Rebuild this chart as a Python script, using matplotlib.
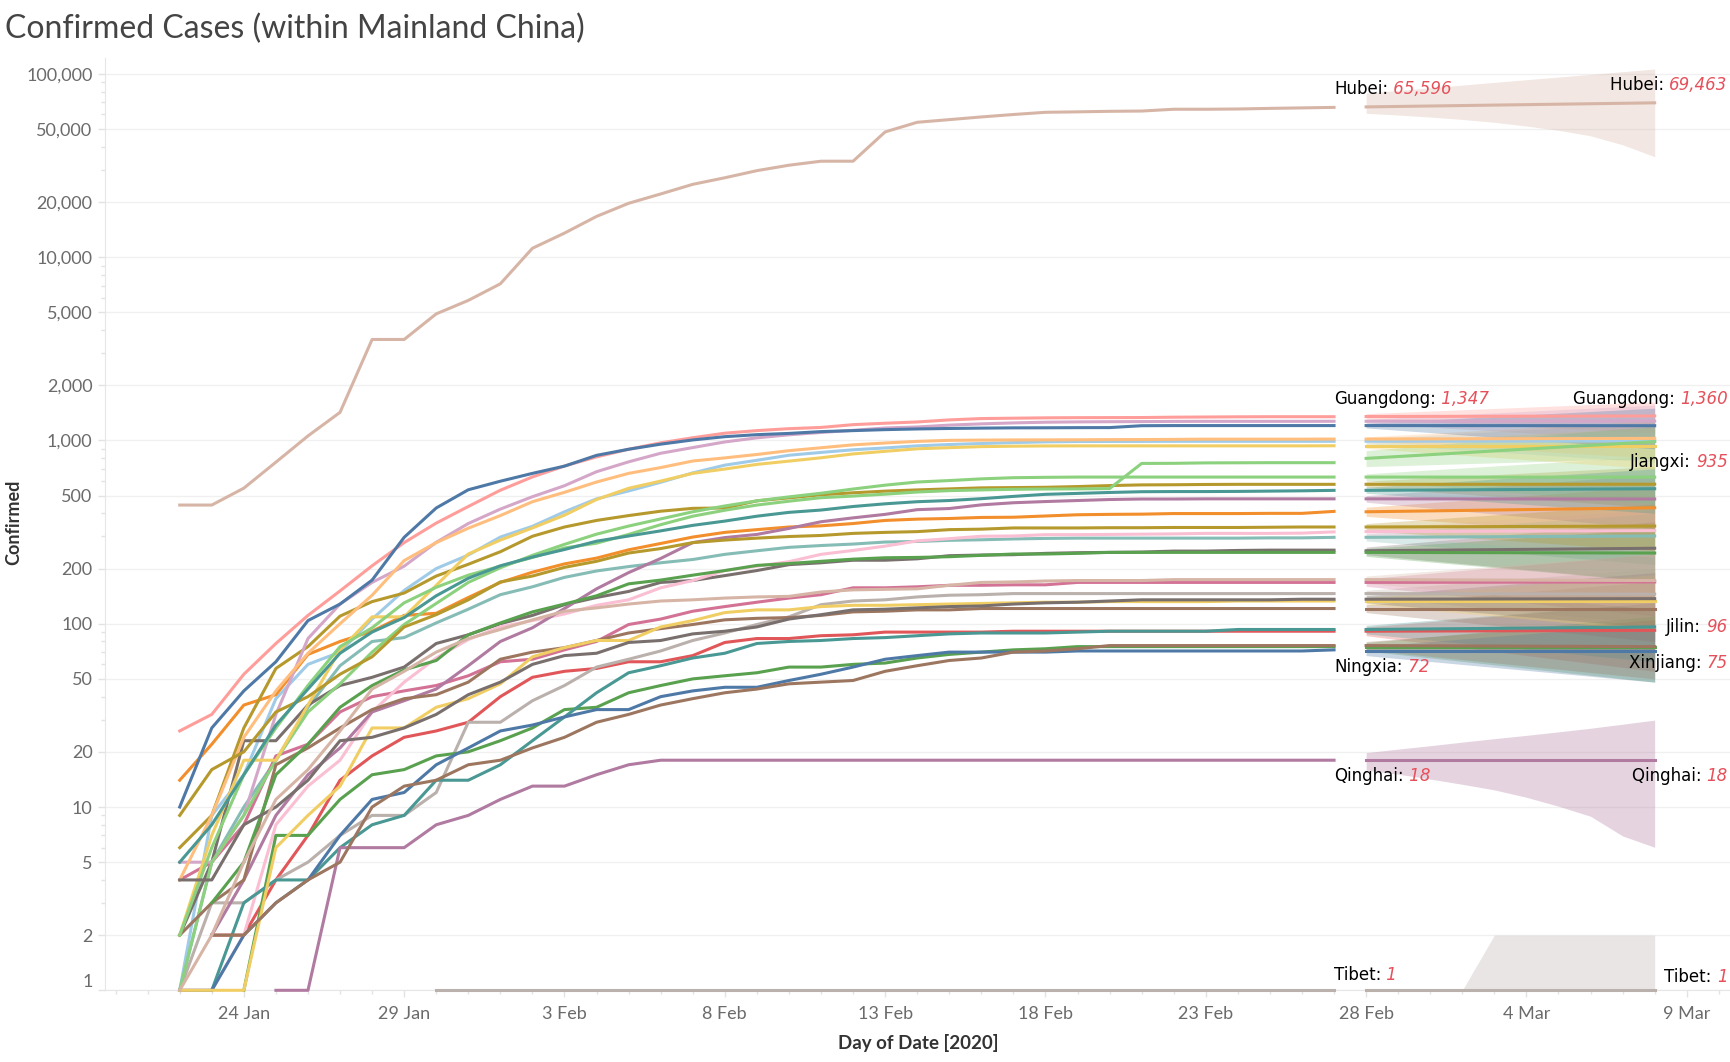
import numpy as np
import pandas as pd
import matplotlib
matplotlib.use("Agg")
import matplotlib.pyplot as plt
import matplotlib.dates as mdates
from matplotlib.ticker import LogLocator, NullFormatter

# daily confirmed cases, 22 Jan .. 27 Feb 2020 (0 = no case yet, not drawn on log axis)
anhui = [1, 9, 15, 39, 60, 70, 106, 152, 200, 237, 297, 340, 408, 480, 530, 591, 665, 733, 779, 830,
         860, 889, 910, 934, 950, 962, 973, 982, 986, 987, 988, 989, 989, 989, 989, 989, 989]
beijing = [14, 22, 36, 41, 68, 80, 91, 111, 114, 139, 168, 191, 212, 228, 253, 274, 297, 315, 326, 337,
           342, 352, 366, 372, 375, 380, 381, 387, 393, 395, 396, 399, 399, 399, 400, 400, 410]
chongqing = [6, 9, 27, 57, 75, 110, 132, 147, 182, 211, 247, 300, 337, 366, 389, 411, 426, 428, 468, 486,
             505, 518, 529, 537, 544, 551, 553, 555, 560, 567, 572, 573, 575, 576, 576, 576, 576]
fujian = [1, 5, 10, 18, 35, 59, 80, 84, 101, 120, 144, 159, 179, 194, 205, 215, 224, 239, 250, 261,
          267, 272, 279, 281, 285, 287, 290, 292, 293, 293, 293, 293, 293, 293, 294, 294, 296]
gansu = [0, 2, 2, 4, 7, 14, 19, 24, 26, 29, 40, 51, 55, 57, 62, 62, 67, 79, 83, 83,
         86, 87, 90, 90, 90, 90, 91, 91, 91, 91, 91, 91, 91, 91, 91, 91, 91]
guangdong = [26, 32, 53, 78, 111, 151, 207, 277, 354, 436, 535, 632, 725, 813, 895, 970, 1034, 1095, 1131, 1159,
             1177, 1219, 1241, 1261, 1294, 1316, 1322, 1328, 1331, 1332, 1333, 1339, 1342, 1345, 1347, 1347, 1347]
guangxi = [2, 5, 23, 23, 36, 46, 51, 58, 78, 87, 100, 111, 127, 139, 150, 168, 172, 183, 195, 210,
           215, 222, 222, 226, 235, 237, 238, 242, 244, 245, 246, 249, 249, 251, 252, 252, 252]
guizhou = [1, 3, 3, 4, 5, 7, 9, 9, 12, 29, 29, 38, 46, 58, 64, 71, 81, 89, 99, 109,
           127, 133, 135, 140, 143, 144, 146, 146, 146, 146, 146, 146, 146, 146, 146, 146, 146]
hainan = [4, 5, 8, 19, 22, 33, 40, 43, 46, 52, 62, 64, 72, 80, 99, 106, 117, 124, 131, 138,
          144, 157, 157, 159, 162, 162, 163, 163, 168, 168, 168, 168, 168, 168, 168, 168, 168]
hebei = [1, 1, 2, 8, 13, 18, 33, 48, 65, 82, 96, 104, 113, 126, 135, 157, 172, 195, 206, 218,
         239, 251, 265, 283, 291, 300, 301, 306, 306, 307, 308, 309, 311, 311, 311, 312, 317]
heilongjiang = [0, 2, 4, 9, 15, 21, 33, 38, 44, 59, 80, 95, 121, 155, 190, 227, 277, 295, 307, 331,
                360, 378, 395, 419, 425, 445, 457, 464, 470, 476, 479, 479, 480, 480, 480, 480, 480]
henan = [5, 5, 9, 32, 83, 128, 168, 206, 278, 352, 422, 493, 566, 675, 764, 851, 914, 981, 1033, 1073,
         1105, 1135, 1169, 1184, 1212, 1231, 1246, 1257, 1262, 1265, 1267, 1270, 1271, 1271, 1271, 1271, 1272]
hubei = [444, 444, 549, 761, 1058, 1423, 3554, 3554, 4903, 5806, 7153, 11177, 13522, 16678, 19665, 22112,
         24953, 27100, 29631, 31728, 33366, 33366, 48206, 54406, 56249, 58182, 59989, 61682, 62031, 62442,
         62662, 64084, 64084, 64287, 64786, 65187, 65596]
hunan = [4, 9, 24, 43, 69, 100, 143, 221, 277, 332, 389, 463, 521, 593, 661, 711, 772, 803, 838, 879,
         912, 946, 968, 988, 1001, 1004, 1006, 1007, 1008, 1010, 1011, 1013, 1016, 1016, 1016, 1016, 1017]
inner_mongolia = [0, 0, 1, 7, 7, 11, 15, 16, 19, 20, 23, 27, 34, 35, 42, 46, 50, 52, 54, 58,
                  58, 60, 61, 65, 68, 70, 72, 73, 75, 75, 75, 75, 75, 75, 75, 75, 75]
jiangsu = [1, 5, 9, 18, 33, 47, 70, 99, 129, 168, 202, 236, 271, 308, 341, 373, 408, 439, 468, 492,
           515, 543, 570, 593, 604, 617, 626, 629, 631, 631, 631, 631, 631, 631, 631, 631, 631]
jiangxi = [2, 7, 18, 18, 36, 72, 109, 109, 162, 240, 286, 333, 391, 476, 548, 600, 661, 698, 740, 771,
           804, 844, 872, 900, 913, 925, 930, 933, 934, 934, 934, 934, 934, 934, 934, 934, 935]
jilin = [0, 1, 3, 4, 4, 6, 8, 9, 14, 14, 17, 23, 31, 42, 54, 59, 65, 69, 78, 80,
         81, 83, 84, 86, 88, 89, 89, 89, 90, 91, 91, 91, 91, 93, 93, 93, 93]
liaoning = [2, 3, 4, 17, 21, 27, 34, 39, 41, 48, 64, 70, 74, 81, 89, 94, 99, 105, 107, 108,
            111, 116, 117, 119, 119, 121, 121, 121, 121, 121, 121, 121, 121, 121, 121, 121, 121]
ningxia = [1, 1, 2, 3, 4, 7, 11, 12, 17, 21, 26, 28, 31, 34, 34, 40, 43, 45, 45, 49,
           53, 58, 64, 67, 70, 70, 70, 70, 71, 71, 71, 71, 71, 71, 71, 71, 72]
qinghai = [0, 0, 0, 1, 1, 6, 6, 6, 8, 9, 11, 13, 13, 15, 17, 18, 18, 18, 18, 18,
           18, 18, 18, 18, 18, 18, 18, 18, 18, 18, 18, 18, 18, 18, 18, 18, 18]
shaanxi = [0, 3, 5, 15, 22, 35, 46, 56, 63, 87, 101, 116, 128, 142, 165, 173, 184, 195, 208, 213,
           219, 225, 229, 230, 232, 236, 240, 240, 242, 245, 245, 245, 245, 245, 245, 245, 245]
shandong = [2, 6, 15, 27, 46, 75, 95, 130, 158, 184, 206, 230, 259, 275, 307, 347, 386, 416, 444, 466,
            487, 497, 509, 523, 532, 537, 541, 543, 544, 546, 749, 750, 754, 755, 756, 756, 756]
shanghai = [9, 16, 20, 33, 40, 53, 66, 96, 112, 135, 169, 182, 203, 219, 243, 257, 277, 286, 293, 299,
            303, 311, 315, 318, 326, 328, 333, 333, 333, 334, 334, 335, 335, 335, 336, 337, 337]
shanxi = [1, 1, 1, 6, 9, 13, 27, 27, 35, 39, 47, 66, 74, 81, 81, 96, 104, 115, 119, 119,
          124, 126, 126, 127, 128, 129, 130, 131, 131, 132, 132, 132, 132, 133, 133, 133, 133]
sichuan = [5, 8, 15, 28, 44, 69, 90, 108, 142, 177, 207, 231, 254, 282, 301, 321, 344, 363, 386, 405,
           417, 436, 451, 463, 470, 481, 495, 508, 514, 520, 525, 526, 526, 527, 529, 531, 534]
tianjin = [4, 4, 8, 10, 14, 23, 24, 27, 32, 41, 48, 60, 67, 69, 79, 81, 88, 91, 96, 106,
           112, 119, 120, 122, 124, 125, 128, 130, 131, 133, 135, 135, 135, 135, 135, 136, 136]
tibet = [0, 0, 0, 0, 0, 0, 0, 0, 1, 1, 1, 1, 1, 1, 1, 1, 1, 1, 1, 1,
         1, 1, 1, 1, 1, 1, 1, 1, 1, 1, 1, 1, 1, 1, 1, 1, 1]
xinjiang = [0, 2, 2, 3, 4, 5, 10, 13, 14, 17, 18, 21, 24, 29, 32, 36, 39, 42, 44, 47,
            48, 49, 55, 59, 63, 65, 70, 71, 73, 76, 76, 76, 76, 76, 76, 76, 76]
yunnan = [1, 2, 5, 11, 16, 26, 44, 55, 70, 83, 93, 105, 117, 122, 128, 133, 135, 138, 140, 141,
          149, 153, 154, 155, 162, 168, 169, 171, 172, 172, 172, 174, 174, 174, 174, 174, 174]
zhejiang = [10, 27, 43, 62, 104, 128, 173, 296, 428, 538, 599, 661, 724, 829, 895, 954, 1006, 1048, 1075, 1092,
            1117, 1131, 1145, 1155, 1162, 1167, 1171, 1172, 1174, 1175, 1203, 1205, 1205, 1205, 1205, 1205, 1205]

provinces = ["Anhui", "Beijing", "Chongqing", "Fujian", "Gansu", "Guangdong", "Guangxi", "Guizhou",
             "Hainan", "Hebei", "Heilongjiang", "Henan", "Hubei", "Hunan", "Inner Mongolia", "Jiangsu",
             "Jiangxi", "Jilin", "Liaoning", "Ningxia", "Qinghai", "Shaanxi", "Shandong", "Shanghai",
             "Shanxi", "Sichuan", "Tianjin", "Tibet", "Xinjiang", "Yunnan", "Zhejiang"]
series = [anhui, beijing, chongqing, fujian, gansu, guangdong, guangxi, guizhou,
          hainan, hebei, heilongjiang, henan, hubei, hunan, inner_mongolia, jiangsu,
          jiangxi, jilin, liaoning, ningxia, qinghai, shaanxi, shandong, shanghai,
          shanxi, sichuan, tianjin, tibet, xinjiang, yunnan, zhejiang]
colors = ["#A0CBE8", "#F28E2B", "#B6992D", "#86BCB6", "#E15759", "#FF9D9A", "#79706E", "#BAB0AC",
          "#D37295", "#FABFD2", "#B07AA1", "#D4A6C8", "#D7B5A6", "#FFBE7D", "#59A14F", "#8CD17D",
          "#F1CE63", "#499894", "#9D7660", "#4E79A7", "#B07AA1", "#59A14F", "#8CD17D", "#B6992D",
          "#F1CE63", "#499894", "#79706E", "#BAB0AC", "#9D7660", "#D7B5A6", "#4E79A7"]

# forecast 28 Feb -> 8 Mar: line start/end and band edges at start/end
fc_start = [990, 408, 576, 296, 91, 1350, 250, 146, 168, 318, 480, 1272, 66000, 1017, 75, 631,
            935, 93, 121, 71, 18, 245, 798, 337, 133, 534, 136, 1, 76, 174, 1205]
fc_end = [993, 429, 577, 301, 92, 1360, 258, 145, 169, 322, 479, 1276, 69463, 1026, 75, 630,
          935, 96, 121, 71, 18, 243, 985, 341, 133, 545, 137, 1, 75, 172, 1203]
band_lo_start = [960, 385, 555, 283, 86, 1310, 238, 140, 160, 305, 460, 1240, 60900, 990, 71, 605,
                 905, 88, 115, 67, 16, 233, 720, 322, 127, 515, 130, 1, 72, 166, 1170]
band_hi_start = [1020, 432, 600, 309, 96, 1400, 262, 152, 176, 330, 500, 1305, 78500, 1045, 79, 657,
                 965, 98, 127, 75, 20, 257, 880, 352, 139, 555, 142, 1, 80, 182, 1240]
band_lo_end = [760, 300, 430, 210, 55, 1100, 170, 100, 110, 230, 330, 1000, 35300, 800, 48, 450,
               700, 62, 80, 48, 6, 170, 800, 250, 92, 400, 95, 1, 50, 120, 900]
band_hi_end = [1250, 560, 720, 400, 130, 1620, 360, 200, 240, 420, 650, 1560, 106200, 1280, 110, 820,
               1180, 130, 170, 100, 30, 330, 1200, 450, 185, 700, 190, 2, 105, 240, 1500]

# bands with a visibly curved edge, one value per forecast day
hubei_lo = [60900, 59600, 58100, 56400, 54400, 51900, 49200, 45900, 41000, 35300]
hubei_hi = [78500, 81200, 83900, 86800, 89800, 92900, 96000, 99300, 102700, 106200]
qinghai_lo = [15.9, 15.1, 14.2, 13.3, 12.4, 11.3, 10.1, 8.9, 6.95, 6.03]
qinghai_hi = [19.8, 20.7, 21.6, 22.6, 23.6, 24.6, 25.7, 26.9, 28.3, 29.8]
tibet_lo = [1, 1, 1, 1, 1, 1, 1, 1, 1, 1]
tibet_hi = [1, 1, 1, 1, 2, 2, 2, 2, 2, 2]
daily_bands = {"Hubei": (hubei_lo, hubei_hi), "Qinghai": (qinghai_lo, qinghai_hi),
               "Tibet": (tibet_lo, tibet_hi)}

# annotated values: (province, text value, vertical offset in pt)
labels_left = [("Hubei", "65,596", 13), ("Guangdong", "1,347", 12.5), ("Ningxia", "72", -12),
               ("Qinghai", "18", -11.5), ("Tibet", "1", 11)]
labels_right = [("Hubei", "69,463", 12.8), ("Guangdong", "1,360", 12.5), ("Jiangxi", "935", -11.5),
                ("Jilin", "96", 0), ("Xinjiang", "75", -12), ("Qinghai", "18", -11.5), ("Tibet", "1", 9.5)]

y_ticks = [1, 2, 5, 10, 20, 50, 100, 200, 500, 1000, 2000, 5000, 10000, 20000, 50000, 100000]
x_tick_labels = ["24 Jan", "29 Jan", "3 Feb", "8 Feb", "13 Feb", "18 Feb", "23 Feb", "28 Feb", "4 Mar", "9 Mar"]

dates = pd.date_range("2020-01-22", periods=len(hubei))
fc_dates = pd.date_range("2020-02-28", periods=10)
fc_ends = fc_dates[[0, -1]]

W, H = 1731, 1062
fig = plt.figure(figsize=(W / 100, H / 100), dpi=100)
ax = fig.add_axes([105 / W, 71.7 / H, 1626 / W, 932.3 / H])
ax.set_yscale("log")

for i, name in enumerate(provinces):
    c = colors[i]
    v = np.array(series[i], dtype=float)
    v[v <= 0] = np.nan
    ax.plot(dates, v, color=c, lw=2.2, zorder=3, clip_on=False)
    if name in daily_bands:
        lo, hi = daily_bands[name]
        ax.fill_between(fc_dates, lo, hi, color=c, alpha=0.32, lw=0, zorder=1)
    else:
        ax.fill_between(fc_ends, [band_lo_start[i], band_lo_end[i]], [band_hi_start[i], band_hi_end[i]],
                        color=c, alpha=0.3, lw=0, zorder=1)
    ax.plot(fc_ends, [fc_start[i], fc_end[i]], color=c, lw=2.2, zorder=3, clip_on=False)

red = "#e5505a"
lab_font = dict(fontsize=12, family="DejaVu Sans")
last_x = mdates.date2num(dates[-1])
for name, num, dy in labels_left:
    i = provinces.index(name)
    t = ax.annotate(name + ":", xy=(last_x, series[i][-1]), xytext=(0, dy), textcoords="offset points",
                    ha="left", va="center", color="black", zorder=5, **lab_font)
    ax.annotate(" " + num, xy=(1, 0), xycoords=t, ha="left", va="bottom", color=red, style="italic",
                zorder=5, **lab_font)
for name, num, dy in labels_right:
    i = provinces.index(name)
    t = ax.annotate(num, xy=(0.998, fc_end[i]), xycoords=("axes fraction", "data"), xytext=(0, dy),
                    textcoords="offset points", ha="right", va="center", color=red, style="italic",
                    zorder=5, **lab_font)
    ax.annotate(name + ": ", xy=(0, 0), xycoords=t, ha="right", va="bottom", color="black",
                zorder=5, **lab_font)

# axes styling
x0 = pd.Timestamp("2020-01-22")
ax.set_xlim(x0 - pd.Timedelta(days=2.33), x0 + pd.Timedelta(days=48.38))
ax.set_ylim(1, 122000)
ax.set_yticks(y_ticks, [f"{t:,}" for t in y_ticks])
ax.yaxis.set_minor_locator(LogLocator(base=10, subs=range(2, 10)))
ax.yaxis.set_minor_formatter(NullFormatter())
ax.set_xticks(pd.date_range("2020-01-24", periods=10, freq="5D"), x_tick_labels)
ax.xaxis.set_minor_locator(mdates.DayLocator())

tick_font = "Lato"
for lab in ax.get_xticklabels() + ax.get_yticklabels():
    lab.set_family(tick_font)
    lab.set_fontsize(13)
    lab.set_color("#6b6b6b")
ax.yaxis.get_major_ticks()[0].label1.set_verticalalignment("bottom")

ax.tick_params(axis="both", which="major", length=5, width=1, color="#e3e3e3")
ax.tick_params(axis="both", which="minor", length=3, width=1, color="#e3e3e3")
ax.tick_params(axis="x", which="major", pad=6)
ax.tick_params(axis="y", which="major", pad=4)
ax.yaxis.grid(True, which="major", color="#f0f0f0", lw=1)
ax.set_axisbelow(True)
for s in ["top", "right"]:
    ax.spines[s].set_visible(False)
for s in ["left", "bottom"]:
    ax.spines[s].set_color("#e6e6e6")

fig.text(5 / W, 1 - 29 / H, "Confirmed Cases (within Mainland China)", ha="left", va="center",
         fontsize=23, family="Lato", weight="normal", color="#444444")
fig.text(14 / W, 1 - 522 / H, "Confirmed", rotation=90, ha="center", va="center",
         fontsize=13, family="Lato", weight="bold", color="#333333")
fig.text(918 / W, 1 - 1043 / H, "Day of Date [2020]", ha="center", va="center",
         fontsize=13.5, family="Lato", weight="bold", color="#333333")

fig.savefig("out.png", dpi=100)
